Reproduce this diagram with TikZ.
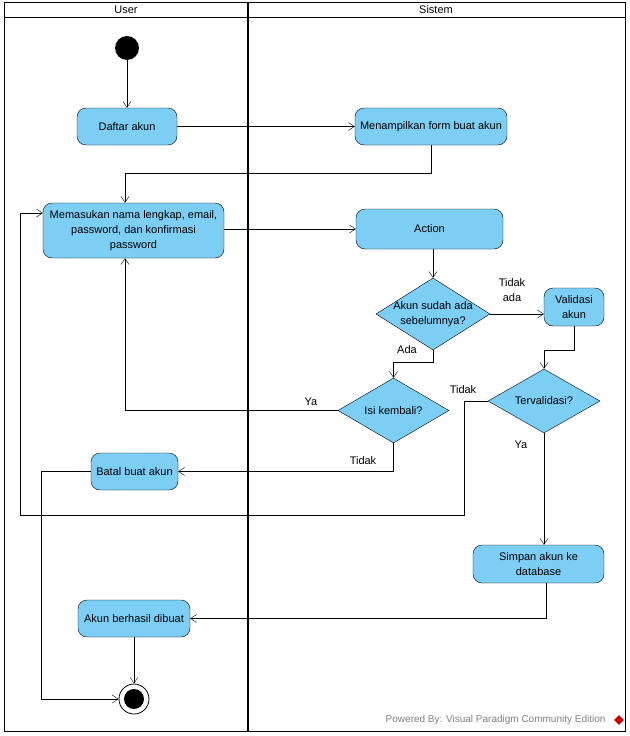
\documentclass[tikz,border=0pt]{standalone}
\usepackage{fontspec}
\setmainfont{Liberation Sans}
\usetikzlibrary{shapes.geometric,arrows.meta}
\definecolor{act}{RGB}{124,206,245}
\begin{document}
\begin{tikzpicture}[x=1pt,y=-1pt,font=\fontsize{11}{15}\selectfont,
  actbox/.style={draw=black,fill=act,rounded corners=9pt,align=center,inner sep=1pt},
  dec/.style={draw=black,fill=act,shape=diamond,inner sep=0pt},
  flow/.style={draw=black,-{Straight Barb[length=6pt,width=8pt]}},
  lbl/.style={align=center}]
\useasboundingbox (0,0) rectangle (629,736);
\fill[white] (0,0) rectangle (629,736);
% swimlanes
\draw[line width=1pt] (4,2) rectangle (625,731);
\draw (4,17) -- (625,17);
\draw[line width=1.5pt] (248,2) -- (248,731);
\node at (126,9.5) {User};
\node at (436,9.5) {Sistem};
% nodes
\node[circle,fill=black,minimum size=24pt,inner sep=0] (start) at (127,48) {};
\node[actbox,minimum width=100pt,minimum height=37pt] (daftar) at (127,126.5) {Daftar akun};
\node[actbox,minimum width=152pt,minimum height=37pt] (form) at (431,126.5) {Menampilkan form buat akun};
\node[actbox,minimum width=181pt,minimum height=55pt] (input) at (133.5,230.5) {Memasukan nama lengkap, email,\\password, dan konfirmasi\\password};
\node[actbox,minimum width=147pt,minimum height=40pt] (action) at (429.5,229) {Action};
\node[dec,minimum width=114pt,minimum height=72pt] (ada) at (433,314) {};
\node[lbl] at (ada.center) {Akun sudah ada\\sebelumnya?};
\node[actbox,minimum width=60pt,minimum height=38pt] (valid) at (574,307) {Validasi\\akun};
\node[dec,minimum width=111pt,minimum height=65pt] (isi) at (393.5,410.5) {};
\node at (isi.center) {Isi kembali?};
\node[dec,minimum width=112pt,minimum height=64pt] (terv) at (544,401) {};
\node at (terv.center) {Tervalidasi?};
\node[actbox,minimum width=87pt,minimum height=37pt] (batal) at (134.5,471.5) {Batal buat akun};
\node[actbox,minimum width=131pt,minimum height=38pt] (simpan) at (538.5,564) {Simpan akun ke\\database};
\node[actbox,minimum width=112pt,minimum height=37pt] (berhasil) at (134,618.5) {Akun berhasil dibuat};
\node[circle,draw=black,fill=white,minimum size=30pt,inner sep=0,line width=0.8pt] (end) at (134,699) {};
\fill (end.center) circle (10pt);
% edges
\draw[flow] (start) -- (daftar);
\draw[flow] (daftar) -- (form);
\draw[flow] (form.south) -- ++(0,28) -| (input.north -| 125,0);
\draw[flow] (input.east |- 0,229) -- (action.west);
\draw[flow] (action.south -| ada.north) -- (ada.north);
\draw[flow] (ada.east) -- (valid.west |- ada.east);
\node[lbl] at (512,290) {Tidak\\ada};
\draw[flow] (ada.south) -- ++(0,12) -| (isi.north);
\node[lbl] at (407,350) {Ada};
\draw[flow] (isi.west) -| (input.south -| 125,0);
\node[lbl] at (311,402) {Ya};
\draw[flow] (isi.south) |- (batal.east);
\node[lbl] at (363,461) {Tidak};
\draw[flow] (valid.south) -- ++(0,24) -| (terv.north);
\coordinate (t1) at (464,515);
\coordinate (t2) at (20,213);
\draw[flow] (terv.west) -| (t1) -| (t2) -- (input.west |- t2);
\node[lbl] at (463,390) {Tidak};
\draw[flow] (terv.south) -- (simpan.north -| terv.south);
\node[lbl] at (521,445) {Ya};
\draw[flow] (simpan.south -| 546,0) |- (berhasil.east);
\draw[flow] (berhasil) -- (end);
\coordinate (b1) at (41,699);
\draw[flow] (batal.west) -| (b1) -- (end.west);
% footer
\node[anchor=east,text=gray,font=\fontsize{10}{12}\selectfont] at (609,720) {Powered By: Visual Paradigm Community Edition};
\node[diamond,fill=red!80!black,inner sep=0,minimum size=10pt] at (619,720) {};
\end{tikzpicture}
\end{document}
